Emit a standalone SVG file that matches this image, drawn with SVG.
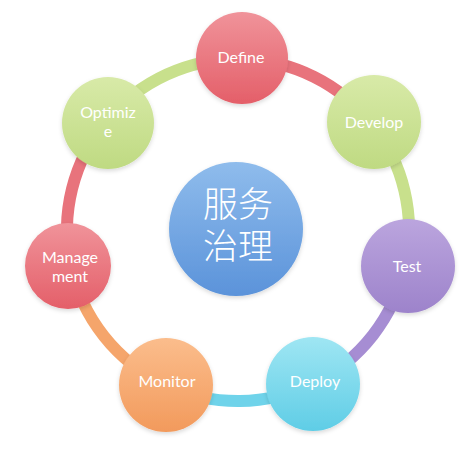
<svg xmlns="http://www.w3.org/2000/svg" width="474" height="456" viewBox="0 0 474 456">
<defs>
<linearGradient id="gRed" x1="0" y1="0" x2="0" y2="1"><stop offset="0" stop-color="#f0939a"/><stop offset="1" stop-color="#e45f69"/></linearGradient>
<linearGradient id="gGreen" x1="0" y1="0" x2="0" y2="1"><stop offset="0" stop-color="#d8eaa8"/><stop offset="1" stop-color="#bfda82"/></linearGradient>
<linearGradient id="gPurple" x1="0" y1="0" x2="0" y2="1"><stop offset="0" stop-color="#bba5de"/><stop offset="1" stop-color="#9d83cb"/></linearGradient>
<linearGradient id="gCyan" x1="0" y1="0" x2="0" y2="1"><stop offset="0" stop-color="#9fe6f3"/><stop offset="1" stop-color="#5fcde6"/></linearGradient>
<linearGradient id="gOrange" x1="0" y1="0" x2="0" y2="1"><stop offset="0" stop-color="#fbbd8c"/><stop offset="1" stop-color="#f29a5c"/></linearGradient>
<linearGradient id="gBlue" x1="0" y1="0" x2="0" y2="1"><stop offset="0" stop-color="#8fbcec"/><stop offset="1" stop-color="#5b93da"/></linearGradient>
<filter id="sh" x="-20%" y="-20%" width="140%" height="140%"><feDropShadow dx="0" dy="2" stdDeviation="2" flood-color="#000" flood-opacity="0.15"/></filter>
</defs>
<style>
.arc{fill:none;stroke-width:12;stroke-linecap:butt}
.lbl{font-family:Lato,"Open Sans","Noto Sans",sans-serif;font-size:16px;fill:#fff;text-anchor:middle}
.cn{font-family:"Noto Sans CJK SC","Noto Sans",sans-serif;font-size:35px;fill:#fff;text-anchor:middle;font-weight:300}
circle{filter:url(#sh)}
</style>
<rect width="474" height="456" fill="#fff"/>
<g id="connectors">
<path class="arc" stroke="#e8737c" d="M241.9 59 A171 171 0 0 1 371.8 123.6"/>
<path class="arc" stroke="#c8e08c" d="M371.8 123.6 A171 171 0 0 1 405.3 265.6"/>
<path class="arc" stroke="#a68dd3" d="M405.3 265.6 A171 171 0 0 1 313.2 383.6"/>
<path class="arc" stroke="#6fd3ea" d="M313.2 383.6 A171 171 0 0 1 166 385.1"/>
<path class="arc" stroke="#f5a56b" d="M166 385.1 A171 171 0 0 1 70.5 264.4"/>
<path class="arc" stroke="#e8737c" d="M70.5 264.4 A171 171 0 0 1 106.1 121.2"/>
<path class="arc" stroke="#c8e08c" d="M106.1 121.2 A171 171 0 0 1 241.9 59"/>
</g>
<g id="center"><circle cx="236" cy="229" r="67" fill="url(#gBlue)"/><text class="cn" x="238" y="217">服务<tspan x="238" dy="42">治理</tspan></text></g>
<g id="define"><circle cx="242" cy="58" r="46" fill="url(#gRed)"/><text class="lbl" x="241" y="63">Define</text></g>
<g id="develop"><circle cx="374" cy="122" r="47" fill="url(#gGreen)"/><text class="lbl" x="374" y="128">Develop</text></g>
<g id="test"><circle cx="408" cy="266" r="47" fill="url(#gPurple)"/><text class="lbl" x="407" y="272">Test</text></g>
<g id="deploy"><circle cx="313" cy="384" r="47" fill="url(#gCyan)"/><text class="lbl" x="315" y="387">Deploy</text></g>
<g id="monitor"><circle cx="166" cy="385" r="47" fill="url(#gOrange)"/><text class="lbl" x="167" y="387">Monitor</text></g>
<g id="management"><circle cx="68" cy="266" r="43" fill="url(#gRed)"/><text class="lbl" x="70" y="263">Manage<tspan x="70" dy="19">ment</tspan></text></g>
<g id="optimize"><circle cx="108" cy="123" r="46" fill="url(#gGreen)"/><text class="lbl" x="108" y="118">Optimiz<tspan x="108" dy="19">e</tspan></text></g>
</svg>
